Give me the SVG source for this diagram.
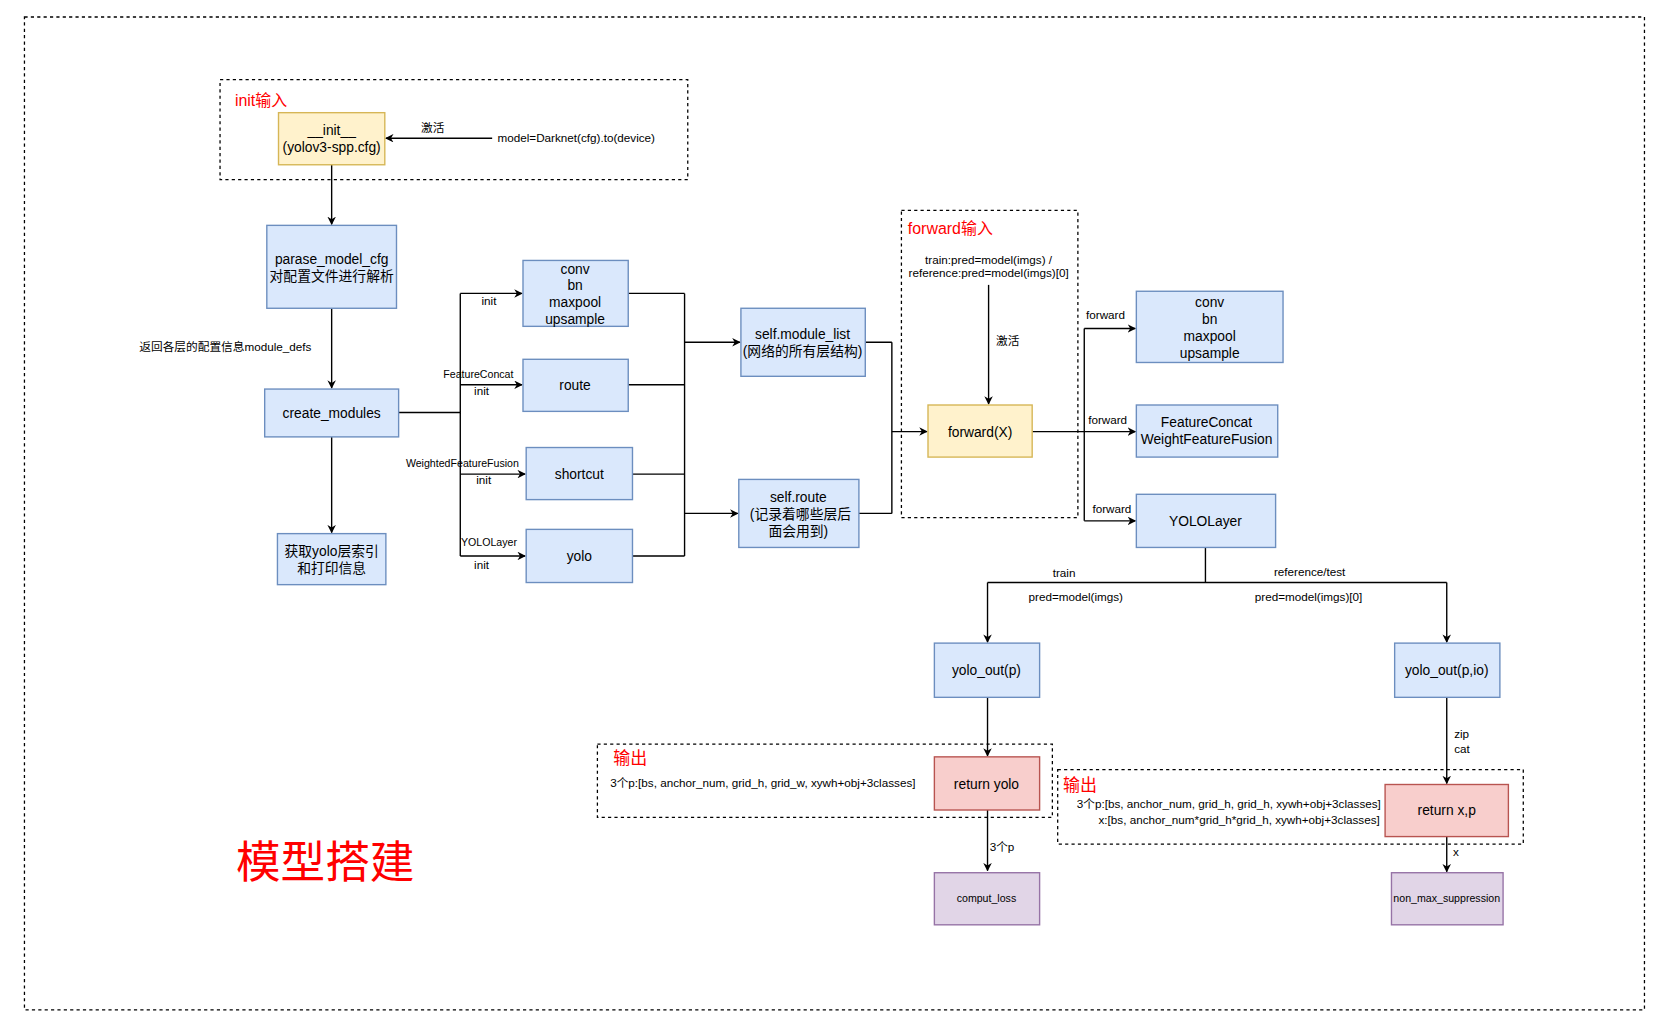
<svg xmlns="http://www.w3.org/2000/svg" width="1667" height="1028" viewBox="0 0 1667 1028">
<defs>
<marker id="a" viewBox="0 0 10 10" refX="9" refY="5" markerWidth="8" markerHeight="8" orient="auto" markerUnits="userSpaceOnUse"><path d="M0,0 L10,5 L0,10 L3,5 z" fill="#000"/></marker>
<style>
text{font-family:"Liberation Sans","Noto Sans CJK SC",sans-serif;fill:#000}
.b{fill:#dae8fc;stroke:#6c8ebf;stroke-width:1.3}
.y{fill:#fff2cc;stroke:#d6b656;stroke-width:1.3}
.r{fill:#f8cecc;stroke:#b85450;stroke-width:1.3}
.p{fill:#e1d5e7;stroke:#9673a6;stroke-width:1.3}
.d{fill:none;stroke:#000;stroke-width:1.2;stroke-dasharray:3,3}
.c path{fill:none;stroke:#000;stroke-width:1.3}
.ar{marker-end:url(#a)}
.n{font-size:13px;text-anchor:middle}
.s{font-size:11px}
.m{font-size:10px}
.red{fill:#ff0000}
</style>
</defs>
<rect width="1667" height="1028" fill="#fff"/>
<g transform="scale(1.063)">
<rect class="d" x="23" y="16" width="1524" height="934"/>
<rect class="d" x="207" y="75" width="440" height="94"/>
<text x="221" y="100" class="red" style="font-size:15px">init输入</text>
<rect class="d" x="848" y="198" width="166" height="289"/>
<text x="854" y="220" class="red" style="font-size:15px">forward输入</text>
<rect class="d" x="562" y="700" width="428" height="69"/>
<text x="577" y="719" class="red" style="font-size:16px">输出</text>
<rect class="d" x="995" y="724" width="438" height="70"/>
<text x="1000" y="744" class="red" style="font-size:16px">输出</text>
<text x="222" y="826" class="red" style="font-size:42px">模型搭建</text>

<g class="c">
<path class="ar" d="M463,130 H363"/>
<path class="ar" d="M312,155 V211"/>
<path class="ar" d="M312,290 V365"/>
<path class="ar" d="M312,411 V501"/>
<path d="M375,388 H433 M433,276 V523"/>
<path class="ar" d="M433,276 H491"/>
<path class="ar" d="M433,362 H491"/>
<path class="ar" d="M433,446 H494"/>
<path class="ar" d="M433,523 H494"/>
<path d="M591,276 H644 M591,362 H644 M595,446 H644 M595,523 H644 M644,276 V523"/>
<path class="ar" d="M644,322 H696"/>
<path class="ar" d="M644,483 H694"/>
<path d="M814,322 H839 M808,483 H839 M839,322 V483"/>
<path class="ar" d="M839,406 H872"/>
<path class="ar" d="M930,268 V380"/>
<path class="ar" d="M971,406 H1068"/>
<path d="M1020,309 V490"/>
<path class="ar" d="M1020,309 H1068"/>
<path class="ar" d="M1020,490 H1068"/>
<path d="M1134,515 V548 M929,548 H1361"/>
<path class="ar" d="M929,548 V604"/>
<path class="ar" d="M1361,548 V604"/>
<path class="ar" d="M929,656 V711"/>
<path class="ar" d="M929,762 V819"/>
<path class="ar" d="M1361,656 V737"/>
<path class="ar" d="M1361,787 V820"/>
</g>
<g id="labels">
<text x="407" y="124" class="s" text-anchor="middle">激活</text>
<text x="468" y="134" class="s">model=Darknet(cfg).to(device)</text>
<text x="131" y="330" class="s">返回各层的配置信息module_defs</text>
<text x="460" y="287" class="s" text-anchor="middle">init</text>
<text x="450" y="356" class="m" text-anchor="middle">FeatureConcat</text>
<text x="453" y="372" class="s" text-anchor="middle">init</text>
<text x="435" y="439" class="m" text-anchor="middle">WeightedFeatureFusion</text>
<text x="455" y="455" class="s" text-anchor="middle">init</text>
<text x="460" y="514" class="m" text-anchor="middle">YOLOLayer</text>
<text x="453" y="535" class="s" text-anchor="middle">init</text>
<text x="930" y="248" class="s" text-anchor="middle">train:pred=model(imgs)  /</text>
<text x="930" y="261" class="s" text-anchor="middle">reference:pred=model(imgs)[0]</text>
<text x="948" y="325" class="s" text-anchor="middle">激活</text>
<text x="1040" y="300" class="s" text-anchor="middle">forward</text>
<text x="1042" y="399" class="s" text-anchor="middle">forward</text>
<text x="1046" y="483" class="s" text-anchor="middle">forward</text>
<text x="1001" y="543" class="s" text-anchor="middle">train</text>
<text x="1012" y="565" class="s" text-anchor="middle">pred=model(imgs)</text>
<text x="1232" y="542" class="s" text-anchor="middle">reference/test</text>
<text x="1231" y="565" class="s" text-anchor="middle">pred=model(imgs)[0]</text>
<text x="574" y="740" class="s">3个p:[bs, anchor_num, grid_h, grid_w, xywh+obj+3classes]</text>
<text x="931" y="801" class="s">3个p</text>
<text x="1368" y="694" class="s">zip</text>
<text x="1368" y="708" class="s">cat</text>
<text x="1299" y="760" class="s" text-anchor="end">3个p:[bs, anchor_num, grid_h, grid_h, xywh+obj+3classes]</text>
<text x="1298" y="775" class="s" text-anchor="end">x:[bs, anchor_num*grid_h*grid_h, xywh+obj+3classes]</text>
<text x="1367" y="805" class="s">x</text>
</g>

<g id="init"><rect class="y" x="262" y="106" width="100" height="49"/><text class="n" x="312" y="127">__init__</text><text class="n" x="312" y="143">(yolov3-spp.cfg)</text></g>
<g id="parse"><rect class="b" x="251" y="212" width="122" height="78"/><text class="n" x="312" y="248">parase_model_cfg</text><text class="n" x="312" y="264">对配置文件进行解析</text></g>
<g id="create"><rect class="b" x="249" y="366" width="126" height="45"/><text class="n" x="312" y="393">create_modules</text></g>
<g id="getyolo"><rect class="b" x="261" y="502" width="102" height="48"/><text class="n" x="312" y="523">获取yolo层索引</text><text class="n" x="312" y="539">和打印信息</text></g>
<g id="conv1"><rect class="b" x="492" y="245" width="99" height="62"/><text class="n" x="541" y="258">conv</text><text class="n" x="541" y="273">bn</text><text class="n" x="541" y="289">maxpool</text><text class="n" x="541" y="305">upsample</text></g>
<g id="route"><rect class="b" x="492" y="338" width="99" height="49"/><text class="n" x="541" y="367">route</text></g>
<g id="shortcut"><rect class="b" x="495" y="421" width="100" height="49"/><text class="n" x="545" y="451">shortcut</text></g>
<g id="yolo"><rect class="b" x="495" y="498" width="100" height="50"/><text class="n" x="545" y="528">yolo</text></g>
<g id="mlist"><rect class="b" x="697" y="290" width="117" height="64"/><text class="n" x="755" y="319">self.module_list</text><text class="n" x="755" y="335">(网络的所有层结构)</text></g>
<g id="sroute"><rect class="b" x="695" y="451" width="113" height="64"/><text class="n" x="751" y="472">self.route</text><text class="n" x="753" y="488">(记录着哪些层后</text><text class="n" x="751" y="504">面会用到)</text></g>
<g id="fwd"><rect class="y" x="873" y="381" width="98" height="49"/><text class="n" x="922" y="411">forward(X)</text></g>
<g id="conv2"><rect class="b" x="1069" y="274" width="138" height="67"/><text class="n" x="1138" y="289">conv</text><text class="n" x="1138" y="305">bn</text><text class="n" x="1138" y="321">maxpool</text><text class="n" x="1138" y="337">upsample</text></g>
<g id="fc"><rect class="b" x="1069" y="381" width="133" height="49"/><text class="n" x="1135" y="402">FeatureConcat</text><text class="n" x="1135" y="418">WeightFeatureFusion</text></g>
<g id="yl"><rect class="b" x="1069" y="465" width="131" height="50"/><text class="n" x="1134" y="495">YOLOLayer</text></g>
<g id="yop"><rect class="b" x="879" y="605" width="99" height="51"/><text class="n" x="928" y="635">yolo_out(p)</text></g>
<g id="yopio"><rect class="b" x="1312" y="605" width="99" height="51"/><text class="n" x="1361" y="635">yolo_out(p,io)</text></g>
<g id="ry"><rect class="r" x="879" y="712" width="99" height="50"/><text class="n" x="928" y="742">return yolo</text></g>
<g id="rxp"><rect class="r" x="1303" y="738" width="116" height="49"/><text class="n" x="1361" y="767">return x,p</text></g>
<g id="loss"><rect class="p" x="879" y="821" width="99" height="49"/><text x="928" y="849" class="m" text-anchor="middle">comput_loss</text></g>
<g id="nms"><rect class="p" x="1309" y="821" width="105" height="49"/><text x="1361" y="849" class="m" text-anchor="middle">non_max_suppression</text></g>
</g>
</svg>
